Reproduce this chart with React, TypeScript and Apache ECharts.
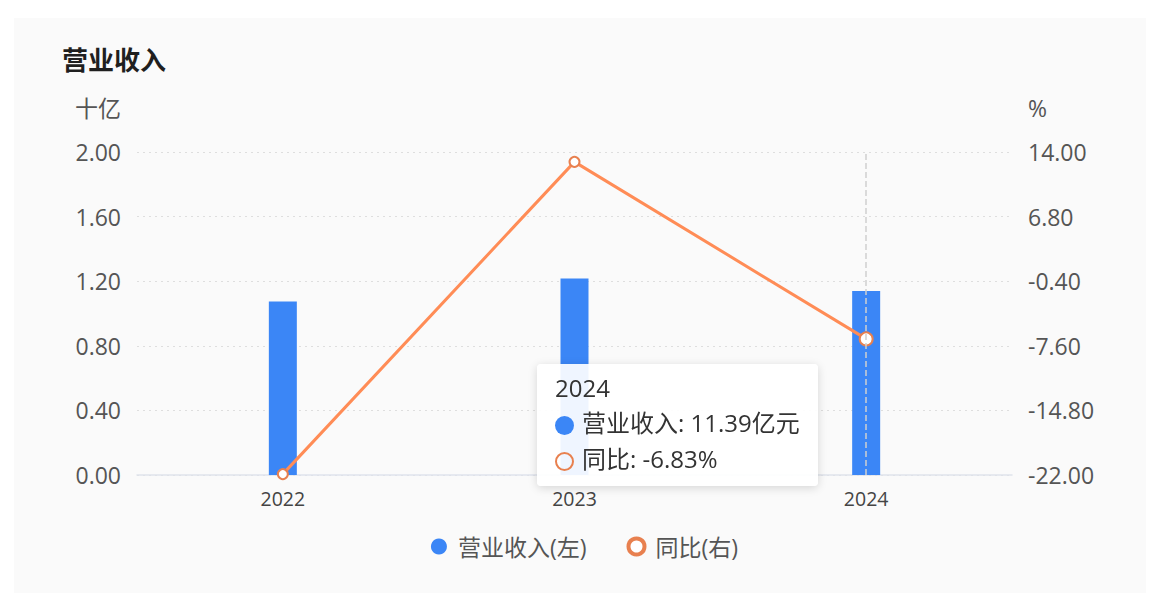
import React, { useEffect, useRef } from "react";
import * as echarts from "echarts";

const categories = ["2022", "2023", "2024"];
const revenue = [1.074, 1.217, 1.139]; // 十亿
const yoy = [-21.9, 12.9, -6.83]; // %
const rightTicks = [-22, -14.8, -7.6, -0.4, 6.8, 14];

const FONT = "'Open Sans', 'Noto Sans CJK SC', sans-serif";
const BLUE = "#3b86f6";
const ORANGE = "#e8804f";

export default function App() {
  const ref = useRef<HTMLDivElement>(null);
  useEffect(() => {
    document.body.style.margin = "0";
    const chart = echarts.init(ref.current!, null, { renderer: "svg" });
    chart.setOption({
      animation: false,
      textStyle: { fontFamily: FONT },
      title: {
        text: "营业收入",
        left: 62,
        top: 47,
        padding: 0,
        textStyle: { fontFamily: FONT, fontSize: 26, fontWeight: "bold", color: "#1f1f1f" },
      },
      grid: { left: 137, right: 157, top: 152, bottom: 134 },
      legend: {
        bottom: 46,
        left: "center",
        itemWidth: 16,
        itemHeight: 16,
        itemGap: 40,
        textStyle: { fontFamily: FONT, fontSize: 23, color: "#555", padding: [0, 0, 0, 6] },
        data: [
          { name: "营业收入(左)", icon: "circle" },
          {
            name: "同比(右)",
            icon: "circle",
            itemStyle: { color: "#fff", borderColor: ORANGE, borderWidth: 4 },
          },
        ],
      },
      tooltip: {
        trigger: "axis",
        alwaysShowContent: true,
        axisPointer: {
          type: "line",
          lineStyle: { type: "dashed", color: "#cfcfcf", width: 1.5 },
        },
        position: () => [537, 364],
        backgroundColor: "rgba(255,255,255,0.92)",
        borderWidth: 0,
        padding: [7, 18, 9, 18],
        extraCssText: "box-shadow: 0 2px 10px rgba(0,0,0,0.15); border-radius:4px;",
        formatter: (params: any[]) => {
          const name = params[0].name;
          const rows = params
            .map((p) => {
              const isBar = p.seriesIndex === 0;
              const marker = isBar
                ? `<span style="display:inline-block;width:19px;height:19px;border-radius:50%;background:${BLUE};margin-right:8px;vertical-align:-3px"></span>`
                : `<span style="display:inline-block;width:15px;height:15px;border-radius:50%;border:2px solid ${ORANGE};margin-right:8px;vertical-align:-3px;box-sizing:content-box"></span>`;
              const label = isBar ? "营业收入" : "同比";
              const val = isBar ? (p.value * 10).toFixed(2) + "亿元" : p.value.toFixed(2) + "%";
              return `<div style="line-height:36px">${marker}${label}: ${val}</div>`;
            })
            .join("");
          return `<div style="font-family:${FONT.replace(/'/g, "")};font-size:24px;color:#333"><div style="line-height:34px">${name}</div>${rows}</div>`;
        },
      },
      xAxis: {
        type: "category",
        data: categories,
        axisTick: { show: false },
        axisLine: { lineStyle: { color: "#dfe3ec", width: 1.5 } },
        axisLabel: { fontFamily: FONT, fontSize: 19.5, color: "#444", margin: 14 },
      },
      yAxis: [
        {
          type: "value",
          min: 0,
          max: 2,
          interval: 0.4,
          name: "十亿",
          nameLocation: "end",
          nameGap: 44,
          nameTextStyle: {
            fontFamily: FONT,
            fontSize: 23,
            color: "#555",
            align: "right",
            verticalAlign: "middle",
            padding: [0, 16, 0, 0],
          },
          axisLabel: {
            fontFamily: FONT,
            fontSize: 23,
            color: "#555",
            margin: 16,
            formatter: (v: number) => v.toFixed(2),
          },
          splitLine: { lineStyle: { type: [2, 4], color: "#dedede" } },
        },
        {
          type: "value",
          min: -22,
          max: 14,
          name: "%",
          nameLocation: "end",
          nameGap: 44,
          nameTextStyle: {
            fontFamily: FONT,
            fontSize: 23,
            color: "#555",
            align: "left",
            verticalAlign: "middle",
            padding: [0, 0, 0, 16],
          },
          axisLabel: {
            fontFamily: FONT,
            fontSize: 23,
            color: "#555",
            margin: 16,
            customValues: rightTicks,
            formatter: (v: number) => v.toFixed(2),
          },
          axisTick: { show: false },
          splitLine: { show: false },
        },
      ],
      series: [
        {
          name: "营业收入(左)",
          type: "bar",
          yAxisIndex: 0,
          data: revenue,
          barWidth: 28,
          itemStyle: { color: BLUE },
          emphasis: { disabled: true },
        },
        {
          name: "同比(右)",
          type: "line",
          yAxisIndex: 1,
          data: yoy,
          symbol: "emptyCircle",
          symbolSize: 10,
          lineStyle: { color: ORANGE, width: 3 },
          itemStyle: { color: ORANGE, borderWidth: 2.5 },
          emphasis: { scale: 1.3 },
          z: 3,
        },
      ],
    });
    chart.dispatchAction({ type: "showTip", seriesIndex: 1, dataIndex: 2 });
    return () => chart.dispose();
  }, []);
  return (
    <div style={{ position: "relative", width: 1169, height: 609, background: "#fff" }}>
      <div
        style={{
          position: "absolute",
          left: 14,
          top: 18,
          width: 1132,
          height: 575,
          background: "#fafafa",
        }}
      />
      <div ref={ref} style={{ position: "absolute", left: 0, top: 0, width: 1169, height: 609 }} />
    </div>
  );
}
